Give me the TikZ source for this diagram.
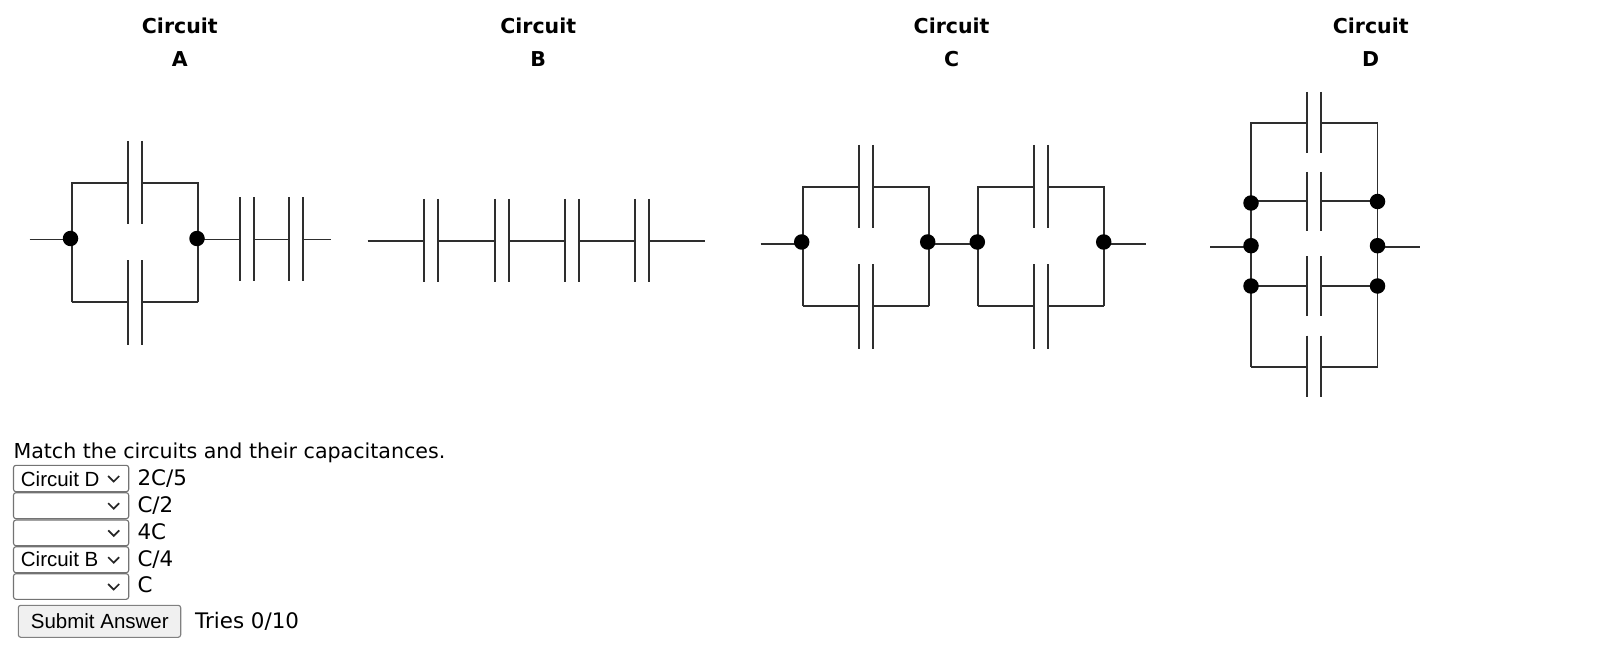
\documentclass[tikz,border=0pt]{standalone}
\usepackage{fontspec}
\setmainfont{DejaVu Sans}
\newfontfamily\uifont{Liberation Sans}
\pgfdeclarelayer{wires}
\pgfsetlayers{wires,main}
\tikzset{
  x=1pt,y=-1pt,
  wire/.style={draw=black!82,line width=1.8pt,line cap=butt,line join=miter},
  junction/.style={circle,fill=black,inner sep=0pt,minimum size=15.5pt},
  heading/.style={font=\bfseries\fontsize{20.5}{22}\selectfont,anchor=base,inner sep=0pt},
  body/.style={font=\fontsize{20.6}{22}\selectfont,anchor=base west,inner sep=0pt},
  answer/.style={font=\fontsize{21.4}{22}\selectfont,anchor=base west,inner sep=0pt},
  uitext/.style={font=\uifont\fontsize{20.5}{22}\selectfont,anchor=base west,inner sep=0pt},
  selectbox/.style={draw=black!55,rounded corners=2.5pt,line width=1.1pt,fill=white},
  chevron/.style={draw=black!85,line width=1.7pt},
  submitbox/.style={draw=black!50,rounded corners=2.5pt,line width=1.1pt,fill=black!6}
}
% horizontal capacitor: name, plate x1, plate x2, wire y, plate top, plate bottom
\newcommand{\capac}[6]{%
  \coordinate (#1l) at (#2,#4);\coordinate (#1r) at (#3,#4);
  \draw[wire] (#2,#5) -- (#2,#6);\draw[wire] (#3,#5) -- (#3,#6);}
\newcommand{\selbox}[3]{%
  \draw[selectbox] (13.5,#1) rectangle (128.7,#2);
  \coordinate (chev#3) at (113.7,{(#1+#2)/2});
  \draw[chevron] ([shift={(-5.5,-2.5)}]chev#3) -- ([shift={(0,3)}]chev#3) -- ([shift={(5.5,-2.5)}]chev#3);}
\begin{document}
\begin{tikzpicture}
\useasboundingbox (0,0) rectangle (1601,647);
\begin{pgfonlayer}{wires}\fill[white] (0,0) rectangle (1601,647);\end{pgfonlayer}
\node[heading] (ha1) at (179.8,33.3) {Circuit};
\node[heading] (ha2) at (179.8,66.7) {A};
\node[heading] (hb1) at (538.2,33.3) {Circuit};
\node[heading] (hb2) at (538.2,66.7) {B};
\node[heading] (hc1) at (951.6,33.3) {Circuit};
\node[heading] (hc2) at (951.6,66.7) {C};
\node[heading] (hd1) at (1370.7,33.3) {Circuit};
\node[heading] (hd2) at (1370.7,66.7) {D};
% junctions
\node[junction] (aj1) at (70.5,238.5) {};
\node[junction] (aj2) at (197,238.5) {};
\node[junction] (cj1) at (801.7,242) {};
\node[junction] (cj2) at (927.7,242) {};
\node[junction] (cj3) at (977.3,242) {};
\node[junction] (cj4) at (1103.7,242) {};
\node[junction] (dl1) at (1251,203) {};
\node[junction] (dl2) at (1251,245.7) {};
\node[junction] (dl3) at (1251,286) {};
\node[junction] (dr1) at (1377.5,201.5) {};
\node[junction] (dr2) at (1377.5,245.7) {};
\node[junction] (dr3) at (1377.5,286) {};
\begin{pgfonlayer}{wires}
% Circuit A
\coordinate (a0) at (29.5,239.5);\coordinate (a9) at (331,239.5);
\capac{at}{128}{142.3}{183.3}{141}{224}
\capac{ab}{128}{142.3}{302.3}{260}{345}
\capac{as}{240.3}{254.3}{239.5}{197.3}{280.7}
\capac{au}{288.7}{303}{239.5}{197.3}{280.7}
\coordinate (atL) at (71.7,183.3);\coordinate (abL) at (71.7,302.3);
\coordinate (atR) at (198.3,183.3);\coordinate (abR) at (198.3,302.3);
\draw[wire] (a0) -- (a0 -| aj1);
\draw[wire] (abL) -- (atL) -- (atl);
\draw[wire] (abL) -- (abl);
\draw[wire] (abR) -- (atR) -- (atr);
\draw[wire] (abR) -- (abr);
\draw[wire] (asl -| aj2) -- (asl);
\draw[wire] (asr) -- (aul);
\draw[wire] (aur) -- (a9);
% Circuit B
\coordinate (b0) at (367.7,241);\coordinate (b9) at (705.3,241);
\capac{b1}{424.3}{438.3}{241}{199}{282}
\capac{b2}{494.7}{508.7}{241}{199}{282}
\capac{b3}{565}{579}{241}{199}{282}
\capac{b4}{635.3}{649.3}{241}{199}{282}
\draw[wire] (b0) -- (b1l);
\draw[wire] (b1r) -- (b2l);
\draw[wire] (b2r) -- (b3l);
\draw[wire] (b3r) -- (b4l);
\draw[wire] (b4r) -- (b9);
% Circuit C
\coordinate (c0) at (760.7,243.7);\coordinate (c9) at (1146,243.7);
\capac{c1}{859}{873}{187.3}{145}{228}
\capac{c2}{859}{873}{306}{264}{348.7}
\capac{c3}{1033.7}{1047.7}{187.3}{145}{228}
\capac{c4}{1033.7}{1047.7}{306}{264}{348.7}
\coordinate (c1L) at (802.7,187.3);\coordinate (c2L) at (802.7,306);
\coordinate (c1R) at (929,187.3);\coordinate (c2R) at (929,306);
\coordinate (c3L) at (977.6,187.3);\coordinate (c4L) at (977.6,306);
\coordinate (c3R) at (1103.7,187.3);\coordinate (c4R) at (1103.7,306);
\draw[wire] (c0) -- (c0 -| cj1);
\draw[wire] (c2L) -- (c1L) -- (c1l);
\draw[wire] (c2L) -- (c2l);
\draw[wire] (c2R) -- (c1R) -- (c1r);
\draw[wire] (c2R) -- (c2r);
\draw[wire] (c0 -| cj2) -- (c0 -| cj3);
\draw[wire] (c4L) -- (c3L) -- (c3l);
\draw[wire] (c4L) -- (c4l);
\draw[wire] (c4R) -- (c3R) -- (c3r);
\draw[wire] (c4R) -- (c4r);
\draw[wire] (c0 -| cj4) -- (c9);
% Circuit D
\coordinate (d0) at (1210,247);\coordinate (d9) at (1420,247);
\capac{d1}{1307.3}{1321.3}{123.3}{92}{153}
\capac{d2}{1307.3}{1321.3}{201.3}{172}{231}
\capac{d3}{1307.3}{1321.3}{285.7}{256.3}{315.7}
\capac{d4}{1307.3}{1321.3}{367}{335.7}{397.3}
\coordinate (d1L) at (1251,123.3);\coordinate (d4L) at (1251,367);
\coordinate (d1R) at (1377.5,123.3);\coordinate (d4R) at (1377.5,367);
\draw[wire] (d4L) -- (d1L) -- (d1l);
\draw[wire] (d4L) -- (d4l);
\draw[wire] (d4R) -- (d1R) -- (d1r);
\draw[wire] (d4R) -- (d4r);
\draw[wire] (d2l -| dl1) -- (d2l);
\draw[wire] (d2r) -- (d2r -| dr1);
\draw[wire] (d3l -| dl3) -- (d3l);
\draw[wire] (d3r) -- (d3r -| dr3);
\draw[wire] (d0) -- (d0 -| dl2);
\draw[wire] (d0 -| dr2) -- (d9);
\end{pgfonlayer}
% Form
\node[body] (prompt) at (13.3,458.5) {Match the circuits and their capacitances.};
\selbox{465.3}{491.7}{1}
\selbox{492.7}{518.7}{2}
\selbox{520}{545.7}{3}
\selbox{546.7}{572.7}{4}
\selbox{573.7}{599.3}{5}
\node[uitext] (s1) at (20.7,486) {Circuit D};
\node[uitext] (s4) at (20.7,566.5) {Circuit B};
\node[answer] (l1) at (137.3,485.5) {2C/5};
\node[answer] (l2) at (137.3,512) {C/2};
\node[answer] (l3) at (137.3,539) {4C};
\node[answer] (l4) at (137.3,566) {C/4};
\node[answer] (l5) at (137.3,592.5) {C};
\draw[submitbox] (18.3,605.3) rectangle (180.7,637.3);
\node[uitext] (sub) at (30.7,628.3) {Submit Answer};
\node[answer] (tries) at (195,628) {Tries 0/10};
\end{tikzpicture}
\end{document}
